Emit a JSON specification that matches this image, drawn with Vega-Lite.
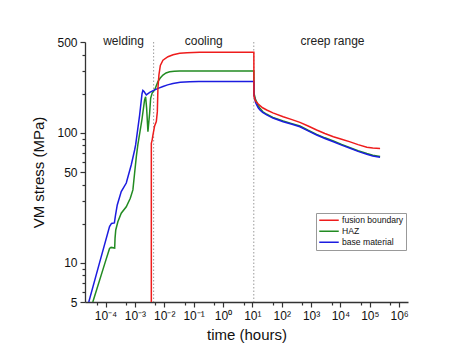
{
  "$schema": "https://vega.github.io/schema/vega-lite/v6.json",
  "width": 323,
  "height": 260,
  "autosize": {"type": "none"},
  "padding": {"left": 85, "top": 42, "right": 66, "bottom": 60},
  "background": "white",
  "config": {
    "font": "Liberation Sans",
    "view": {"stroke": null},
    "axis": {"grid": false, "domainColor": "#333", "tickColor": "#333", "labelColor": "#111", "titleColor": "#111", "domainWidth": 1.3, "tickWidth": 1.2, "labelFontSize": 12, "titleFontSize": 15, "titleFontWeight": "normal"},
    "legend": {"orient": "none", "legendX": 231, "legendY": 171, "strokeColor": "#999", "fillColor": "white", "padding": 2, "symbolType": "stroke", "symbolSize": 380, "symbolStrokeWidth": 1.6, "labelFontSize": 8.6, "labelColor": "#111", "clipHeight": 10.5, "rowPadding": 0, "labelOffset": 2}
  },
  "datasets": {
    "curves": [
      {"series": "HAZ", "i": 1, "t": 3.69e-5, "s": 5},
      {"series": "HAZ", "i": 2, "t": 9.6e-5, "s": 10},
      {"series": "HAZ", "i": 3, "t": 1.37e-4, "s": 12.9},
      {"series": "HAZ", "i": 4, "t": 1.55e-4, "s": 13.15},
      {"series": "HAZ", "i": 5, "t": 2.05e-4, "s": 13.0},
      {"series": "HAZ", "i": 6, "t": 2.11e-4, "s": 15.5},
      {"series": "HAZ", "i": 7, "t": 2.23e-4, "s": 17.9},
      {"series": "HAZ", "i": 8, "t": 2.63e-4, "s": 20.7},
      {"series": "HAZ", "i": 9, "t": 3.43e-4, "s": 24.1},
      {"series": "HAZ", "i": 10, "t": 5.09e-4, "s": 27.0},
      {"series": "HAZ", "i": 11, "t": 6.97e-4, "s": 31.4},
      {"series": "HAZ", "i": 12, "t": 8.55e-4, "s": 36.4},
      {"series": "HAZ", "i": 13, "t": 9.77e-4, "s": 48.9},
      {"series": "HAZ", "i": 14, "t": 1.12e-3, "s": 65.6},
      {"series": "HAZ", "i": 15, "t": 1.26e-3, "s": 80.7},
      {"series": "HAZ", "i": 16, "t": 1.73e-3, "s": 125.6},
      {"series": "HAZ", "i": 17, "t": 2.14e-3, "s": 179},
      {"series": "HAZ", "i": 18, "t": 2.32e-3, "s": 189.7},
      {"series": "HAZ", "i": 19, "t": 2.51e-3, "s": 155.4},
      {"series": "HAZ", "i": 20, "t": 2.78e-3, "s": 102},
      {"series": "HAZ", "i": 21, "t": 3.18e-3, "s": 142},
      {"series": "HAZ", "i": 22, "t": 3.44e-3, "s": 184.5},
      {"series": "HAZ", "i": 23, "t": 3.87e-3, "s": 202.6},
      {"series": "HAZ", "i": 24, "t": 4.7e-3, "s": 214},
      {"series": "HAZ", "i": 25, "t": 6.09e-3, "s": 247.6},
      {"series": "HAZ", "i": 26, "t": 7.3e-3, "s": 264},
      {"series": "HAZ", "i": 27, "t": 9.03e-3, "s": 278.6},
      {"series": "HAZ", "i": 28, "t": 0.0115, "s": 289},
      {"series": "HAZ", "i": 29, "t": 0.01528, "s": 295},
      {"series": "HAZ", "i": 30, "t": 0.022, "s": 297.5},
      {"series": "HAZ", "i": 31, "t": 0.0336, "s": 298.6},
      {"series": "HAZ", "i": 32, "t": 11.25, "s": 298.6},
      {"series": "HAZ", "i": 33, "t": 11.35, "s": 203},
      {"series": "HAZ", "i": 34, "t": 12.59, "s": 183},
      {"series": "HAZ", "i": 35, "t": 15.85, "s": 162},
      {"series": "HAZ", "i": 36, "t": 18.2, "s": 155},
      {"series": "HAZ", "i": 37, "t": 22.39, "s": 146},
      {"series": "HAZ", "i": 38, "t": 30.9, "s": 139},
      {"series": "HAZ", "i": 39, "t": 50.1, "s": 131.5},
      {"series": "HAZ", "i": 40, "t": 112.2, "s": 123.3},
      {"series": "HAZ", "i": 41, "t": 223.9, "s": 117.8},
      {"series": "HAZ", "i": 42, "t": 417, "s": 112.8},
      {"series": "HAZ", "i": 43, "t": 794, "s": 104.7},
      {"series": "HAZ", "i": 44, "t": 1549, "s": 97.4},
      {"series": "HAZ", "i": 45, "t": 2951, "s": 91.6},
      {"series": "HAZ", "i": 46, "t": 5754, "s": 86.5},
      {"series": "HAZ", "i": 47, "t": 10965, "s": 81.5},
      {"series": "HAZ", "i": 48, "t": 21380, "s": 77.0},
      {"series": "HAZ", "i": 49, "t": 39811, "s": 72.9},
      {"series": "HAZ", "i": 50, "t": 79430, "s": 69.3},
      {"series": "HAZ", "i": 51, "t": 125893, "s": 67.2},
      {"series": "HAZ", "i": 52, "t": 223900, "s": 65.8},

      {"series": "base material", "i": 1, "t": 2.69e-5, "s": 5},
      {"series": "base material", "i": 2, "t": 6.24e-5, "s": 10},
      {"series": "base material", "i": 3, "t": 1.37e-4, "s": 19.0},
      {"series": "base material", "i": 4, "t": 1.6e-4, "s": 20.1},
      {"series": "base material", "i": 5, "t": 2.0e-4, "s": 20.3},
      {"series": "base material", "i": 6, "t": 2.19e-4, "s": 23.3},
      {"series": "base material", "i": 7, "t": 2.51e-4, "s": 27.9},
      {"series": "base material", "i": 8, "t": 3.43e-4, "s": 35.3},
      {"series": "base material", "i": 9, "t": 5.09e-4, "s": 41.1},
      {"series": "base material", "i": 10, "t": 7.5e-4, "s": 56.6},
      {"series": "base material", "i": 11, "t": 9.8e-4, "s": 73.8},
      {"series": "base material", "i": 12, "t": 1.06e-3, "s": 80.7},
      {"series": "base material", "i": 13, "t": 1.45e-3, "s": 137},
      {"series": "base material", "i": 14, "t": 1.75e-3, "s": 200},
      {"series": "base material", "i": 15, "t": 1.87e-3, "s": 212},
      {"series": "base material", "i": 16, "t": 2.05e-3, "s": 208},
      {"series": "base material", "i": 17, "t": 2.45e-3, "s": 196},
      {"series": "base material", "i": 18, "t": 3.2e-3, "s": 205},
      {"series": "base material", "i": 19, "t": 4.7e-3, "s": 214},
      {"series": "base material", "i": 20, "t": 6.5e-3, "s": 221},
      {"series": "base material", "i": 21, "t": 9.03e-3, "s": 227.5},
      {"series": "base material", "i": 22, "t": 0.013, "s": 234},
      {"series": "base material", "i": 23, "t": 0.0198, "s": 240},
      {"series": "base material", "i": 24, "t": 0.035, "s": 245},
      {"series": "base material", "i": 25, "t": 0.0736, "s": 247.3},
      {"series": "base material", "i": 26, "t": 0.15, "s": 248},
      {"series": "base material", "i": 27, "t": 11.25, "s": 248},
      {"series": "base material", "i": 28, "t": 11.35, "s": 195.5},
      {"series": "base material", "i": 29, "t": 12.59, "s": 176},
      {"series": "base material", "i": 30, "t": 13.2, "s": 168.8},
      {"series": "base material", "i": 31, "t": 15.85, "s": 156},
      {"series": "base material", "i": 32, "t": 18.2, "s": 150},
      {"series": "base material", "i": 33, "t": 22.39, "s": 144},
      {"series": "base material", "i": 34, "t": 30.9, "s": 137.3},
      {"series": "base material", "i": 35, "t": 50.1, "s": 130},
      {"series": "base material", "i": 36, "t": 112.2, "s": 121.9},
      {"series": "base material", "i": 37, "t": 223.9, "s": 116.5},
      {"series": "base material", "i": 38, "t": 417, "s": 111.5},
      {"series": "base material", "i": 39, "t": 794, "s": 103.5},
      {"series": "base material", "i": 40, "t": 1549, "s": 96.3},
      {"series": "base material", "i": 41, "t": 2951, "s": 90.5},
      {"series": "base material", "i": 42, "t": 5754, "s": 85.5},
      {"series": "base material", "i": 43, "t": 10965, "s": 80.5},
      {"series": "base material", "i": 44, "t": 21380, "s": 76.1},
      {"series": "base material", "i": 45, "t": 39811, "s": 72.0},
      {"series": "base material", "i": 46, "t": 79430, "s": 68.4},
      {"series": "base material", "i": 47, "t": 125893, "s": 66.3},
      {"series": "base material", "i": 48, "t": 223900, "s": 64.9},

      {"series": "fusion boundary", "i": 1, "t": 3.63e-3, "s": 5},
      {"series": "fusion boundary", "i": 2, "t": 3.63e-3, "s": 83},
      {"series": "fusion boundary", "i": 3, "t": 3.87e-3, "s": 88},
      {"series": "fusion boundary", "i": 4, "t": 4.11e-3, "s": 96},
      {"series": "fusion boundary", "i": 5, "t": 4.7e-3, "s": 113},
      {"series": "fusion boundary", "i": 6, "t": 5.37e-3, "s": 122},
      {"series": "fusion boundary", "i": 7, "t": 5.81e-3, "s": 145},
      {"series": "fusion boundary", "i": 8, "t": 6.09e-3, "s": 220},
      {"series": "fusion boundary", "i": 9, "t": 6.59e-3, "s": 279},
      {"series": "fusion boundary", "i": 10, "t": 7.36e-3, "s": 330},
      {"series": "fusion boundary", "i": 11, "t": 9.03e-3, "s": 362},
      {"series": "fusion boundary", "i": 12, "t": 0.01337, "s": 385},
      {"series": "fusion boundary", "i": 13, "t": 0.02, "s": 399},
      {"series": "fusion boundary", "i": 14, "t": 0.0336, "s": 409},
      {"series": "fusion boundary", "i": 15, "t": 0.06, "s": 414},
      {"series": "fusion boundary", "i": 16, "t": 0.161, "s": 417},
      {"series": "fusion boundary", "i": 17, "t": 11.25, "s": 417},
      {"series": "fusion boundary", "i": 18, "t": 11.35, "s": 192},
      {"series": "fusion boundary", "i": 19, "t": 12.59, "s": 177},
      {"series": "fusion boundary", "i": 20, "t": 15.85, "s": 166.5},
      {"series": "fusion boundary", "i": 21, "t": 22.39, "s": 156},
      {"series": "fusion boundary", "i": 22, "t": 30.9, "s": 150},
      {"series": "fusion boundary", "i": 23, "t": 50.1, "s": 142.5},
      {"series": "fusion boundary", "i": 24, "t": 112.2, "s": 133},
      {"series": "fusion boundary", "i": 25, "t": 223.9, "s": 126.5},
      {"series": "fusion boundary", "i": 26, "t": 417, "s": 120.5},
      {"series": "fusion boundary", "i": 27, "t": 794, "s": 113},
      {"series": "fusion boundary", "i": 28, "t": 1549, "s": 105.2},
      {"series": "fusion boundary", "i": 29, "t": 2951, "s": 99},
      {"series": "fusion boundary", "i": 30, "t": 5754, "s": 93.4},
      {"series": "fusion boundary", "i": 31, "t": 10965, "s": 89.3},
      {"series": "fusion boundary", "i": 32, "t": 21380, "s": 85.3},
      {"series": "fusion boundary", "i": 33, "t": 39811, "s": 81.2},
      {"series": "fusion boundary", "i": 34, "t": 79430, "s": 77.6},
      {"series": "fusion boundary", "i": 35, "t": 125893, "s": 76.4},
      {"series": "fusion boundary", "i": 36, "t": 223900, "s": 75.8}
    ],
    "phases": [
      {"t": 0.00435},
      {"t": 11.2}
    ],
    "labels": [
      {"label": "welding", "t": 4.11e-4, "s": 500},
      {"label": "cooling", "t": 0.221, "s": 500},
      {"label": "creep range", "t": 5370, "s": 500}
    ]
  },
  "layer": [
    {
      "data": {"name": "phases"},
      "mark": {"type": "rule", "color": "#9a9a9a", "strokeDash": [1.5, 2], "strokeWidth": 1},
      "encoding": {
        "x": {"field": "t", "type": "quantitative", "scale": {"type": "log", "domain": [2e-5, 2e6], "nice": false}, "axis": null}
      }
    },
    {
      "data": {"name": "labels"},
      "mark": {"type": "text", "baseline": "middle", "align": "center", "fontSize": 12, "color": "#222", "dy": -1},
      "encoding": {
        "x": {"field": "t", "type": "quantitative", "scale": {"type": "log", "domain": [2e-5, 2e6], "nice": false},
              "axis": {"orient": "bottom", "values": [5e-5, 5e-4, 5e-3, 5e-2, 5e-1, 5, 50, 500, 5000, 50000, 500000], "labels": false, "tickSize": 3, "title": null, "domain": false}},
        "y": {"field": "s", "type": "quantitative", "scale": {"type": "log", "domain": [5, 500], "nice": false},
              "axis": {"orient": "left", "values": [6, 7, 8, 9, 20, 30, 40, 60, 70, 80, 90, 200, 300, 400], "labels": false, "tickSize": 3, "title": null, "domain": false}},
        "text": {"field": "label"}
      }
    },
    {
      "data": {"name": "curves"},
      "transform": [{"filter": "datum.series === 'HAZ'"}],
      "mark": {"type": "line", "strokeWidth": 1.5, "clip": true},
      "encoding": {
        "x": {"field": "t", "type": "quantitative", "scale": {"type": "log", "domain": [2e-5, 2e6], "nice": false}, "axis": null},
        "y": {"field": "s", "type": "quantitative", "scale": {"type": "log", "domain": [5, 500], "nice": false}, "axis": null},
        "order": {"field": "i"},
        "color": {"field": "series", "type": "nominal", "scale": {"domain": ["fusion boundary", "HAZ", "base material"], "range": ["#ee1c1c", "#228b22", "#1c1ce0"]}, "legend": {"title": null}}
      }
    },
    {
      "data": {"name": "curves"},
      "transform": [{"filter": "datum.series === 'base material'"}],
      "mark": {"type": "line", "strokeWidth": 1.5, "clip": true},
      "encoding": {
        "x": {"field": "t", "type": "quantitative", "scale": {"type": "log", "domain": [2e-5, 2e6], "nice": false}, "axis": null},
        "y": {"field": "s", "type": "quantitative", "scale": {"type": "log", "domain": [5, 500], "nice": false}, "axis": null},
        "order": {"field": "i"},
        "color": {"field": "series", "type": "nominal", "scale": {"domain": ["fusion boundary", "HAZ", "base material"], "range": ["#ee1c1c", "#228b22", "#1c1ce0"]}, "legend": {"title": null}}
      }
    },
    {
      "data": {"name": "curves"},
      "transform": [{"filter": "datum.series === 'fusion boundary'"}],
      "mark": {"type": "line", "strokeWidth": 1.5, "clip": true},
      "encoding": {
        "x": {"field": "t", "type": "quantitative", "scale": {"type": "log", "domain": [2e-5, 2e6], "nice": false},
              "axis": {"orient": "bottom", "title": "time (hours)", "values": [1e-4, 1e-3, 1e-2, 1e-1, 1, 10, 100, 1000, 10000, 100000, 1000000], "tickSize": 5, "labelPadding": 3, "titlePadding": 6,
                       "labelExpr": "'10' + (round(log(datum.value)/LN10) < 0 ? '⁻' : '') + ['⁰','¹','²','³','⁴','⁵','⁶'][abs(round(log(datum.value)/LN10))]"}},
        "y": {"field": "s", "type": "quantitative", "scale": {"type": "log", "domain": [5, 500], "nice": false},
              "axis": {"orient": "left", "title": "VM stress (MPa)", "values": [5, 10, 50, 100, 500], "tickSize": 5, "labelPadding": 3, "titlePadding": 10}},
        "order": {"field": "i"},
        "color": {"field": "series", "type": "nominal", "scale": {"domain": ["fusion boundary", "HAZ", "base material"], "range": ["#ee1c1c", "#228b22", "#1c1ce0"]}, "legend": {"title": null}}
      }
    }
  ],
  "resolve": {"axis": {"x": "independent", "y": "independent"}}
}
